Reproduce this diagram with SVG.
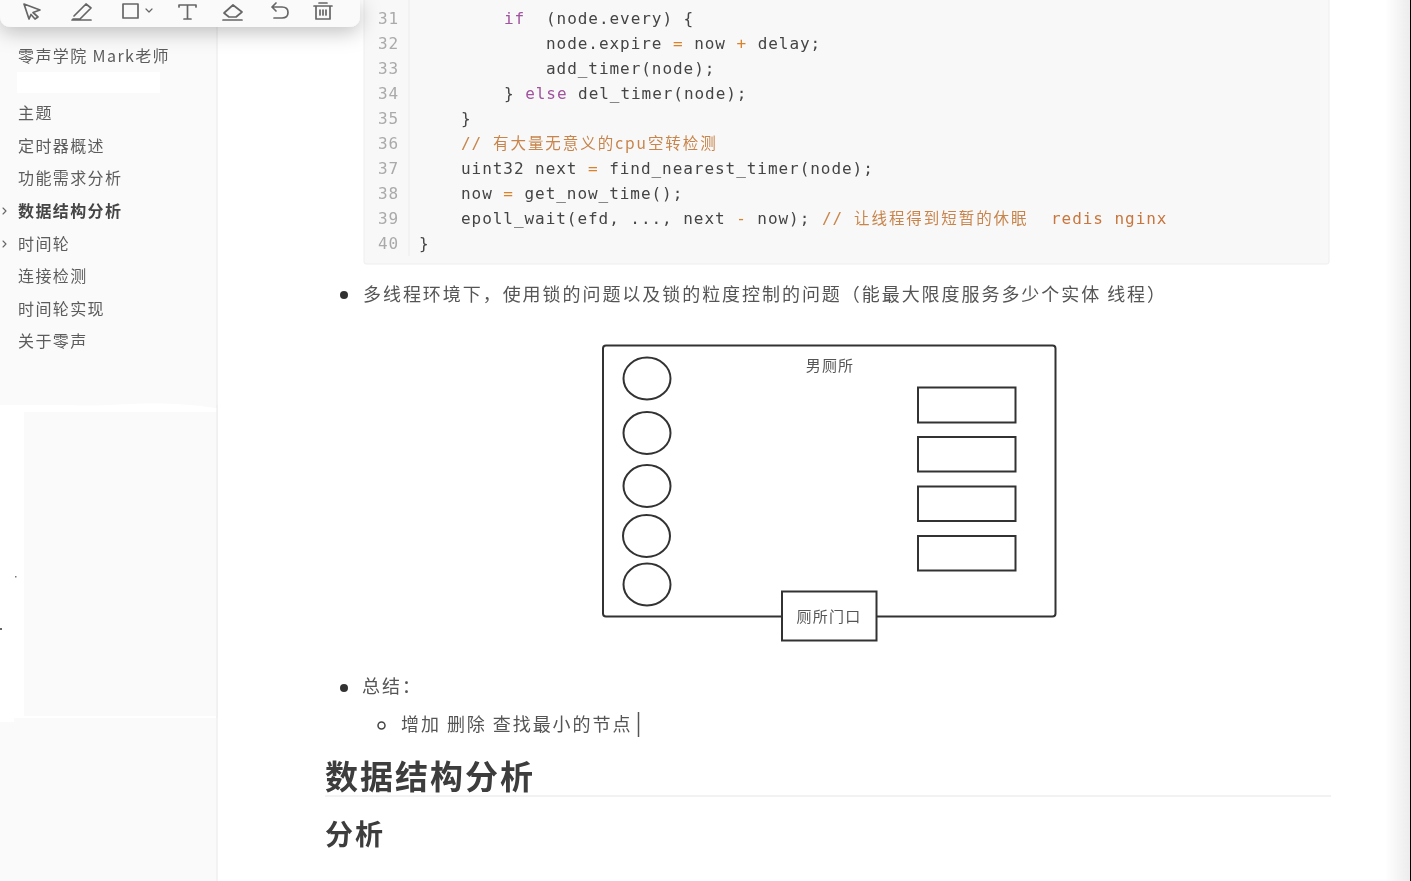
<svg xmlns="http://www.w3.org/2000/svg" width="1411" height="881" viewBox="0 0 1411 881">
<style>
text{font-family:"Noto Sans CJK SC","Noto Sans","Liberation Sans",sans-serif;fill:#555}
.nav{font-size:16px;letter-spacing:1.4px;fill:#5c5c5c}
.body{font-size:18px;letter-spacing:1.95px;fill:#555}
.c{font-family:"DejaVu Sans Mono","Noto Sans CJK SC",monospace;font-size:16px;letter-spacing:.95px;fill:#444}
.n{font-family:"DejaVu Sans Mono",monospace;font-size:16px;letter-spacing:.95px;fill:#aaa}
.k{fill:#a0529e}.o{fill:#d9822b}
.cm{font-family:"Noto Sans CJK SC",sans-serif;font-size:15.5px;letter-spacing:1.95px;fill:#c8854c}
.t{fill:none;stroke:#666;stroke-width:1.7;stroke-linecap:round;stroke-linejoin:round}
.s{fill:#fff;stroke:#333;stroke-width:2}
.l{font-size:15px;letter-spacing:1.2px;fill:#555}
.h{font-weight:700;fill:#3c3c3c}
</style>
<defs>
<filter id="sh" x="-10%" y="-50%" width="120%" height="300%"><feDropShadow dx="0" dy="5" stdDeviation="10" flood-color="#000" flood-opacity=".25"/></filter>
<filter id="soft" x="0" y="0" width="100%" height="100%"><feGaussianBlur stdDeviation=".45"/></filter>
<linearGradient id="edge" x1="0" x2="1" y1="0" y2="0"><stop offset="0" stop-color="#fff"/><stop offset="1" stop-color="#ececec"/></linearGradient>
</defs>
<rect width="1411" height="881" fill="#fff"/>
<g filter="url(#soft)">
<rect x="1385" width="25" height="881" fill="url(#edge)"/>
<g id="sidebar">
<rect width="217" height="881" fill="#fafafa"/>
<path d="M217 0V881" stroke="#efefef" stroke-width="1.5"/>
<rect x="17" y="72" width="143" height="21" fill="#fff"/>
<path d="M0 405H70C110 408 150 398 215 408H217V716L215 718H14V722H0Z" fill="#fff"/>
<rect x="24" y="412" width="193" height="304" fill="#fafafa"/>
<path d="M217 405V718" stroke="#efefef" stroke-width="1.5"/>
<rect x="15" y="576" width="1.500" height="1.500" fill="#777"/>
<rect x="0" y="628" width="2" height="2" fill="#666"/>
<text class="nav" x="18" y="62">零声学院 Mark老师</text>
<text class="nav" x="18" y="119">主题</text>
<text class="nav" x="18" y="151.500">定时器概述</text>
<text class="nav" x="18" y="184">功能需求分析</text>
<text class="nav" x="18" y="217" font-weight="700" style="fill:#444">数据结构分析</text>
<text class="nav" x="18" y="249.500">时间轮</text>
<text class="nav" x="18" y="282">连接检测</text>
<text class="nav" x="18" y="314.500">时间轮实现</text>
<text class="nav" x="18" y="347">关于零声</text>
<path class="t" style="stroke-width:1.100" d="M3 208l3 3-3 3M3 241l3 3-3 3"/>
</g>
<g id="code-block">
<rect x="364" y="-4" width="965" height="268" rx="2" fill="#f8f8f8" stroke="#eeeeee"/>
<path d="M409 0V256" stroke="#ececec"/>
<g class="numbers">
<text class="n" x="378" y="24">31</text><text class="n" x="378" y="49">32</text><text class="n" x="378" y="74">33</text><text class="n" x="378" y="99">34</text><text class="n" x="378" y="124">35</text><text class="n" x="378" y="149">36</text><text class="n" x="378" y="174">37</text><text class="n" x="378" y="198.500">38</text><text class="n" x="378" y="223.500">39</text><text class="n" x="378" y="248.500">40</text>
</g>
<text class="c" x="504" y="24"><tspan class="k">if</tspan></text><text class="c" x="546" y="24">(node.every) {</text>
<text class="c" x="546" y="49">node.expire <tspan class="o">=</tspan> now <tspan class="o">+</tspan> delay;</text>
<text class="c" x="546" y="74">add_timer(node);</text>
<text class="c" x="504" y="99">} <tspan class="k">else</tspan> del_timer(node);</text>
<text class="c" x="461" y="124">}</text>
<text class="c" x="461" y="149" style="fill:#c8854c">//</text><text class="cm" x="493" y="149">有大量无意义的cpu空转检测</text>
<text class="c" x="461" y="174">uint32 next <tspan class="o">=</tspan> find_nearest_timer(node);</text>
<text class="c" x="461" y="198.500">now <tspan class="o">=</tspan> get_now_time();</text>
<text class="c" x="461" y="223.500">epoll_wait(efd, ..., next <tspan class="o">-</tspan> now);</text>
<text class="c" x="822" y="223.500" style="fill:#c8854c">//</text><text class="cm" x="854" y="223.500">让线程得到短暂的休眠</text><text class="c" x="1051" y="223.500" style="fill:#c8763c">redis nginx</text>
<text class="c" x="419" y="248.500">}</text>
</g>
<g id="toolbar">
<path d="M0 0H360V15Q360 27 348 27H12Q0 27 0 15Z" fill="#fafafa" filter="url(#sh)"/>
<path class="t" d="M24 4L40 10 33 12.500 38 17 35 19 31 14.500 29 19Z"/>
<path class="t" d="M74 16L86 4 91 8 80 19H73M72 20H91"/>
<rect class="t" x="123" y="4" width="15" height="14"/>
<path class="t" style="stroke-width:1.200" d="M146 9l3 3 3-3"/>
<path class="t" d="M179 5H196M187.500 5V19M184 19H191M179 5V7M196 5V7"/>
<path class="t" d="M224 13L233 5 242 12 236 17H229ZM223 20H242"/>
<path class="t" d="M276 3L272 7 276 11M272 7H282Q288 7 288 12.500T282 18H274"/>
<path class="t" d="M314 6H332M319 3H327M316 6V19H330V6M320 10V15M323 10V15M326 10V15"/>
</g>
<g id="content">
<circle cx="344" cy="295" r="4" fill="#333"/>
<text class="body" x="363" y="301">多线程环境下，使用锁的问题以及锁的粒度控制的问题（能最大限度服务多少个实体 线程）</text>
<circle cx="344" cy="688" r="4" fill="#333"/>
<text class="body" x="362" y="693">总结：</text>
<circle cx="381.500" cy="725.500" r="3.500" fill="none" stroke="#444" stroke-width="1.500"/>
<text class="body" x="401" y="731">增加 删除 查找最小的节点</text>
<path d="M638.500 712V737" stroke="#555" stroke-width="1.500"/>
<text class="h" x="325" y="789" font-size="33" letter-spacing="2">数据结构分析</text>
<path d="M325 796H1331" stroke="#eee" stroke-width="1.500"/>
<text class="h" x="325" y="845" font-size="28" letter-spacing="2">分析</text>
</g>
<g id="diagram">
<g id="room"><rect class="s" x="603" y="345.500" width="452.500" height="271" rx="3"/><text class="l" x="830" y="371" text-anchor="middle">男厕所</text></g>
<g id="p1"><ellipse class="s" cx="647" cy="378.500" rx="23.500" ry="21"/></g>
<g id="p2"><ellipse class="s" cx="647" cy="433" rx="23.500" ry="21"/></g>
<g id="p3"><ellipse class="s" cx="647" cy="486" rx="23.500" ry="21"/></g>
<g id="p4"><ellipse class="s" cx="646.500" cy="536" rx="23.500" ry="21"/></g>
<g id="p5"><ellipse class="s" cx="647" cy="584.500" rx="23.500" ry="21"/></g>
<g id="s1"><rect class="s" x="918" y="387.500" width="97.500" height="35"/></g>
<g id="s2"><rect class="s" x="918" y="437" width="97.500" height="34.500"/></g>
<g id="s3"><rect class="s" x="918" y="486.500" width="97.500" height="34.500"/></g>
<g id="s4"><rect class="s" x="918" y="536" width="97.500" height="34.500"/></g>
<g id="door"><rect class="s" x="782" y="591.500" width="94.500" height="49"/><text class="l" x="829" y="622" text-anchor="middle">厕所门口</text></g>
</g>
<g id="connectors"></g>
</g>
<path d="M1410.500 0V881" stroke="#000"/>
</svg>
